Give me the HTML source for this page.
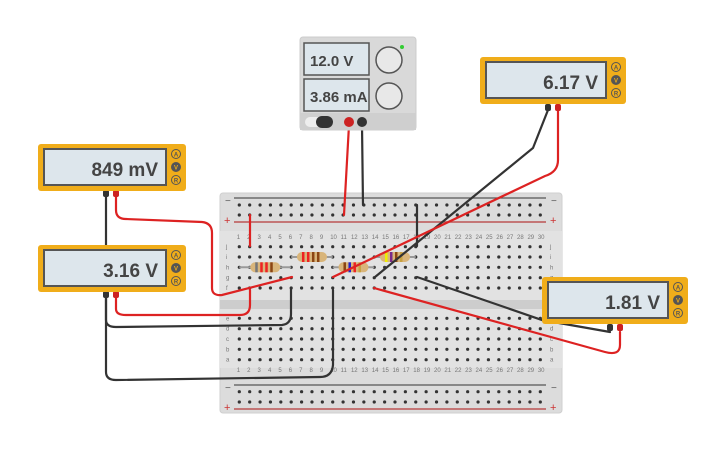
<!DOCTYPE html>
<html><head><meta charset="utf-8"><style>
html,body{margin:0;padding:0;background:#fff;width:725px;height:453px;overflow:hidden}
svg{display:block;font-family:"Liberation Sans",sans-serif}
</style></head><body>
<svg id="s" width="725" height="453" viewBox="0 0 725 453" xmlns="http://www.w3.org/2000/svg">
<!-- breadboard -->
<rect x="220" y="193" width="342" height="220" rx="3" fill="#dcdcdc" stroke="#cfcfcf"/>
<rect x="220" y="231" width="342" height="137" fill="#e2e2e2"/>
<rect x="220" y="300" width="342" height="9" fill="#cdcdcd"/>
<line x1="234" y1="198" x2="546" y2="198" stroke="#555" stroke-width="1.2"/>
<line x1="234" y1="222" x2="546" y2="222" stroke="#b55" stroke-width="1.5"/>
<line x1="234" y1="385" x2="546" y2="385" stroke="#555" stroke-width="1.2"/>
<line x1="234" y1="409" x2="546" y2="409" stroke="#b55" stroke-width="1.5"/>
<g font-size="10" fill="#555"><text x="225" y="204">−</text><text x="551" y="204">−</text><text x="225" y="391">−</text><text x="551" y="391">−</text></g>
<g font-size="11" fill="#c33"><text x="224" y="224">+</text><text x="550" y="224">+</text><text x="224" y="411">+</text><text x="550" y="411">+</text></g>
<g id="dots" fill="#333"></g>
<g id="lbl" font-size="6" fill="#777"></g>

<!-- resistors -->
<g id="res"></g>

<!-- wires -->
<g fill="none" stroke-width="2.2" stroke-linecap="round">
<line x1="250" y1="215" x2="250" y2="246" stroke="#d22"/>
<line x1="417" y1="205" x2="417" y2="246" stroke="#333"/>
<path d="M349 125 L344 215" stroke="#d22"/>
<path d="M362 125 L363 205" stroke="#333"/>
<!-- 849 meter -->
<path d="M106 196 L106 246" stroke="#333"/>
<path d="M116 196 L116 210 Q116 219 126 219 L202 222 Q212 223 212 233 L212 288 Q212 296 222 295 L292 277" stroke="#d22"/>
<!-- 3.16 meter -->
<path d="M116 295 L116 309 Q116 315 126 315 L240 315 Q250 315 250 305 L250 290" stroke="#d22"/>
<path d="M106 295 L106 320 Q106 327 116 327 L282 325 Q291 324 291 314 L291 289" stroke="#333"/>
<path d="M106 295 L106 372 Q106 380 116 380 L320 377 Q332 377 333 365 L333 290" stroke="#333"/>
<!-- 6.17 meter -->
<path d="M548 110 L533 148 L375 277" stroke="#333"/>
<path d="M558 110 L558 160 Q558 172 545 176 L333 277" stroke="#d22"/>
<!-- 1.81 meter -->
<path d="M417 277 L542 320 L610 332" stroke="#333"/>
<path d="M374 288 L605 352 Q620 356 620 345 L620 332" stroke="#d22"/>
</g>
<!-- probes -->
<g id="probes"></g>

<!-- power supply -->
<rect x="300" y="37" width="116" height="93" rx="3" fill="#d9d9d9" stroke="#ccc"/>
<rect x="300" y="113" width="116" height="17" fill="#cfcfcf"/>
<rect x="304" y="43" width="65" height="32" fill="#dde6ec" stroke="#555" stroke-width="1.5"/>
<rect x="304" y="79" width="65" height="32" fill="#dde6ec" stroke="#555" stroke-width="1.5"/>
<text x="310" y="66" font-size="15" font-weight="bold" fill="#444">12.0 V</text>
<text x="310" y="102" font-size="15" font-weight="bold" fill="#444">3.86 mA</text>
<circle cx="389" cy="60" r="13" fill="#e8e8e8" stroke="#555" stroke-width="1.5"/>
<circle cx="389" cy="96" r="13" fill="#e8e8e8" stroke="#555" stroke-width="1.5"/>
<circle cx="402" cy="47" r="2" fill="#3c3"/>
<rect x="305" y="117" width="28" height="10" rx="5" fill="#eee"/><rect x="316" y="116" width="17" height="12" rx="6" fill="#333"/>
<circle cx="349" cy="122" r="5" fill="#c22"/><circle cx="362" cy="122" r="5" fill="#333"/>

<!-- meters -->
<g id="meters"></g>
</svg>
<script>
var NS="http://www.w3.org/2000/svg";
function el(p,t,a,txt){var e=document.createElementNS(NS,t);for(var k in a)e.setAttribute(k,a[k]);if(txt)e.textContent=txt;document.getElementById(p).appendChild(e);return e;}
var cx=function(i){return 239.3+(i-1)*10.38;};
var rows=[205,215,246.7,257,267.3,277.7,288,318.3,328.7,339,349.3,359.7,391.7,402];
for(var r=0;r<rows.length;r++){for(var i=1;i<=30;i++){el("dots","circle",{cx:cx(i),cy:rows[r],r:1.6});}}
var L=["j","i","h","g","f","e","d","c","b","a"];
for(var k=0;k<10;k++){var y=rows[k+2]+2;el("lbl","text",{x:226,y:y},L[k]);el("lbl","text",{x:550,y:y},L[k]);}
for(var i=1;i<=30;i++){el("lbl","text",{x:cx(i)-2.5,y:239},""+i);el("lbl","text",{x:cx(i)-2.5,y:372},""+i);}
function res(c1,c2,y,bands){var x1=cx(c1),x2=cx(c2),m=(x1+x2)/2;
el("res","line",{x1:x1,y1:y,x2:x2,y2:y,stroke:"#999","stroke-width":2});
el("res","rect",{x:m-15,y:y-5,width:30,height:10,rx:5,fill:"#d9b57a"});
for(var b=0;b<bands.length;b++)el("res","rect",{x:m-10+b*5,y:y-5,width:2.5,height:10,fill:bands[b]});}
res(1,6,267.3,["#777","#e22","#e22","#8b4513"]);
res(6,10,257,["#e22","#e22","#8b4513","#8b4513"]);
res(10,14,267.3,["#8b4513","#22c","#e22","#c8a040"]);
res(14,18,257,["#ee0","#7a2a8a","#8b4513","#c8a040"]);
function meter(x,y,w,val){
el("meters","rect",{x:x,y:y,width:w,height:47,rx:3,fill:"#f0ad1a"});
el("meters","rect",{x:x+6,y:y+5,width:w-26,height:36,fill:"#dde6ec",stroke:"#555","stroke-width":2});
el("meters","text",{x:x+w-28,y:y+32,"font-size":19,"font-weight":"bold",fill:"#444","text-anchor":"end"},val);
var ix=x+w-10;["A","V","R"].forEach(function(t,j){var cy=y+10+j*13;
el("meters","circle",{cx:ix,cy:cy,r:4.5,fill:t=="V"?"#555":"none",stroke:"#555","stroke-width":1});
el("meters","text",{x:ix,y:cy+2.5,"font-size":6,"font-weight":"bold",fill:t=="V"?"#f0ad1a":"#555","text-anchor":"middle"},t);});}
meter(38,144,148,"849 mV");
meter(38,245,148,"3.16 V");
meter(480,57,146,"6.17 V");
meter(542,277,146,"1.81 V");
function probe(x,y,c){el("probes","rect",{x:x-3,y:y,width:6,height:7,rx:2,fill:c});}
probe(106,190,"#333");probe(116,190,"#c22");probe(106,291,"#333");probe(116,291,"#c22");
probe(548,104,"#333");probe(558,104,"#c22");probe(610,324,"#333");probe(620,324,"#c22");
</script>
</body></html>
